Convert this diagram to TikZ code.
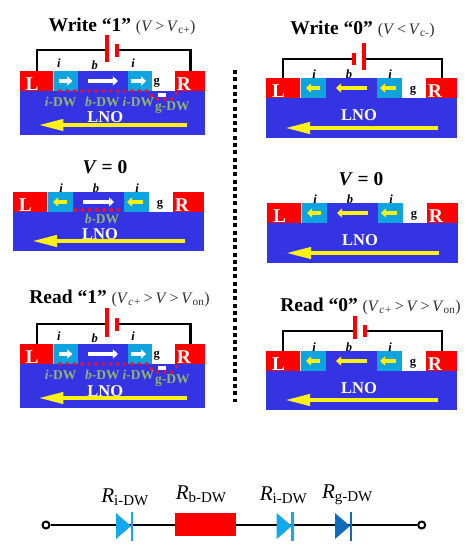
\documentclass[tikz,border=0pt]{standalone}
\usepackage{fontspec}
\setmainfont{Liberation Serif}
\usetikzlibrary{
  arrows.meta,
  positioning
}
\definecolor{dwred}{HTML}{FF0000}
\definecolor{dwcyan}{HTML}{0FA3E0}
\definecolor{dwblue}{HTML}{3434E4}
\definecolor{dwyellow}{HTML}{FFF212}
\definecolor{dwgreen}{HTML}{8FB56E}
\definecolor{dwdots}{HTML}{E0103C}
\definecolor{dwnavy}{HTML}{0F6CBD}
\definecolor{dwlight}{HTML}{12A9EC}
\definecolor{dwgray}{HTML}{303030}

\newcommand{\fsz}[1]{\fontsize{#1}{#1}\selectfont}
\newcommand{\rsub}[1]{\fsz{21}\textit{R}\fsz{15}\raisebox{-3pt}{#1}}
\newcommand{\cond}[1]{{\fsz{16}\mdseries\color{dwgray}#1}}

\tikzset{
  x=1pt, y=-1pt,
  block/.style={rectangle, inner sep=0pt, minimum height=20pt, transform shape, anchor=north west},
  elec/.style={block, fill=dwred},
  ibox/.style={block, fill=dwcyan, minimum width=25pt},
  bbox/.style={block, fill=dwblue, minimum width=51pt},
  lno/.style={block, fill=dwblue, minimum width=191pt},
  elabel/.style={inner sep=0pt, font=\fsz{19.5}\bfseries, white},
  lnolabel/.style={inner sep=0pt, font=\fsz{16.5}\bfseries, white},
  marklabel/.style={inner sep=0pt, font=\fsz{12.5}\bfseries},
  dwlabel/.style={inner sep=0pt, font=\fsz{13.5}\bfseries, dwgreen},
  title/.style={inner sep=0pt, font=\fsz{19.5}\bfseries},
  bitw/.style={-{Triangle[length=5pt,width=9pt]}, line width=4.5pt, white},
  bity/.style={{Triangle[length=5pt,width=9pt]}-, line width=4.5pt, dwyellow},
  bigbit/.style={-{Triangle[length=25pt,width=11pt]}, line width=4pt, dwyellow},
  wire/.style={line width=2.3pt, black},
  plate/.style={rectangle, inner sep=0pt, minimum width=4pt, fill=dwred},
  reddots/.style={dwdots, line width=3.6pt, line cap=round, dash pattern=on 0.6pt off 6.6pt},
  terminal/.style={circle, draw=black, line width=2pt, fill=white, inner sep=0pt, minimum size=7pt},
  resbox/.style={rectangle, inner sep=0pt, fill=dwred, minimum width=61pt, minimum height=23pt},
  rlabel/.style={inner sep=0pt},
  pics/cell/.style n args={4}{code={
    \node[elec, minimum width=34pt] (L) at (0,0) {};
    \node[ibox, right=0pt of L] (ia) {};
    \node[bbox, right=0pt of ia] (bb) {};
    \node[ibox, right=0pt of bb] (ib) {};
    \node[elec, minimum width=31pt] (R) at (160,0) {};
    \node[lno, minimum height=#3pt] (sub) at (0,20) {};
    \node[elabel] (Lt) at (12.5,13) {L};
    \node[elabel] (Rt) at (169,13) {R};
    \node[lnolabel] (lt) at #4 {LNO};
    \draw[#1] (40,10) -- (54,10);
    \draw[#2] (70,10) -- (101,10);
    \draw[#1] (114,10) -- (130,10);
    \draw[bigbit] (172,20+#3-10) -- (19,20+#3-10);
  }},
  pics/marks/.style={code={
    \node[marklabel] (ma) at (48,-4) {\textit{i}};
    \node[marklabel] (mb) at (83,-4) {\textit{b}};
    \node[marklabel] (mc) at (124,-4) {\textit{i}};
    \node[marklabel] (mg) at (147,13) {g};
  }},
  pics/dwmarks/.style={code={
    \node[marklabel] (ma) at (40,-8) {\textit{i}};
    \node[marklabel] (mb) at (77,-6) {\textit{b}};
    \node[marklabel] (mc) at (116.5,-8) {\textit{i}};
    \node[marklabel] (mg) at (141,12) {g};
    \fill[white] (142,22) rectangle (150,26);
    \draw[reddots] (41,20) -- (131,20) -- (139,28) -- (157,28) -- (163,21);
    \node[dwlabel] (da) at (42,31) {\textit{i}-DW};
    \node[dwlabel] (db) at (85,31) {\textit{b}-DW};
    \node[dwlabel] (dc) at (122,31) {\textit{i}-DW};
    \node[dwlabel] (dg) at (157,37) {g-DW};
  }},
  pics/diode/.style={code={
    \fill[#1] (-7.5,-13) -- (7.5,0) -- (-7.5,13) -- cycle;
    \fill[#1] (7.2,-14.5) rectangle (9.8,15);
  }}
}

\begin{document}
\begin{tikzpicture}
  \useasboundingbox (0,0) rectangle (474,554);

  % Write 1
  \node[title] (t1) at (122,26) {Write “1” \cond{(\textit{V}\,>\,\textit{V}\textsubscript{c+})}};
  \pic[xscale=.97] (wa) at (20,71) {cell={bitw}{bitw}{44}{(88,46)}};
  \pic[xscale=.97] (wm) at (20,71) {dwmarks};
  \node[plate, minimum height=27pt] (wal) at (107,48.5) {};
  \node[plate, minimum height=13pt] (was) at (117,50) {};
  \draw[wire] (waL.north) |- (wal.west |- was.center);
  \draw[wire] (waR.north) |- (was.east);

  % Write 0
  \node[title] (t2) at (362.5,29) {Write “0” \cond{(\textit{V}\,<\,\textit{V}\textsubscript{c-})}};
  \pic (wb) at (266,78) {cell={bity}{bity}{40}{(93,37)}};
  \pic (wn) at (266,78) {marks};
  \node[plate, minimum height=12pt] (wbs) at (353.7,58.7) {};
  \node[plate, minimum height=27pt] (wbl) at (364,56.5) {};
  \draw[wire] (wbL.north) |- (wbs.west);
  \draw[wire] (wbR.north) |- (wbl.east |- wbs.center);

  % V = 0 states
  \node[title] (t3) at (105,167) {\textit{V} = 0};
  \pic (za) at (13,192) {cell={bity}{bitw}{39}{(87,42)}};
  \pic (zm) at (13,192) {marks};
  \draw[reddots] (zasub.north west) ++(62,-2) -- ++(47,0);
  \node[dwlabel] (zd) at (102,219) {\textit{b}-DW};

  \node[title] (t4) at (361,179) {\textit{V} = 0};
  \pic (zb) at (267,203) {cell={bity}{bity}{40}{(93,37)}};
  \pic (zn) at (267,203) {marks};

  % Read 1
  \node[title] (t5) at (119.5,298) {Read “1” \cond{(\textit{V}\textsubscript{\textit{c+}}\,>\,\textit{V}\,>\,\textit{V}\textsubscript{on})}};
  \pic[xscale=.97] (ra) at (20,344) {cell={bitw}{bitw}{44}{(88,47)}};
  \pic[xscale=.97] (rm) at (20,344) {dwmarks};
  \node[plate, minimum height=29pt] (ral) at (107,322.5) {};
  \node[plate, minimum height=13pt] (ras) at (117,324) {};
  \draw[wire] (raL.north) |- (ral.west |- ras.center);
  \draw[wire] (raR.north) |- (ras.east);

  % Read 0
  \node[title] (t6) at (370.5,306) {Read “0” \cond{(\textit{V}\textsubscript{\textit{c+}}\,>\,\textit{V}\,>\,\textit{V}\textsubscript{on})}};
  \pic (rb) at (266,351) {cell={bity}{bity}{39}{(93,37)}};
  \pic (rn) at (266,351) {marks};
  \node[plate, minimum height=23pt] (rbl) at (354.7,327) {};
  \node[plate, minimum height=12pt] (rbs) at (365,331) {};
  \draw[wire] (rbL.north) |- (rbl.west |- rbs.center);
  \draw[wire] (rbR.north) |- (rbs.east);

  % Divider
  \coordinate (top) at (235.3,70);
  \coordinate (bot) at (235.3,402);
  \draw[line width=4pt, black, dash pattern=on 4pt off 3.3pt] (top) -- (bot);

  % Equivalent circuit
  \node[terminal] (tl) at (46,525) {};
  \node[terminal] (tr) at (421.7,525) {};
  \draw[wire] (tl) -- (tr);
  \node[resbox] (rbw) at (205.5,524.5) {};
  \pic (da) at (123.5,526) {diode=dwlight};
  \pic (db) at (284.2,526) {diode=dwlight};
  \pic (dc) at (342.5,526) {diode=dwnavy};
  \node[rlabel] (ra1) at (124.8,497) {\rsub{i-DW}};
  \node[rlabel] (ra2) at (201,494) {\rsub{b-DW}};
  \node[rlabel] (ra3) at (283.3,495) {\rsub{i-DW}};
  \node[rlabel] (ra4) at (347.2,495) {\rsub{g-DW}};
\end{tikzpicture}
\end{document}
